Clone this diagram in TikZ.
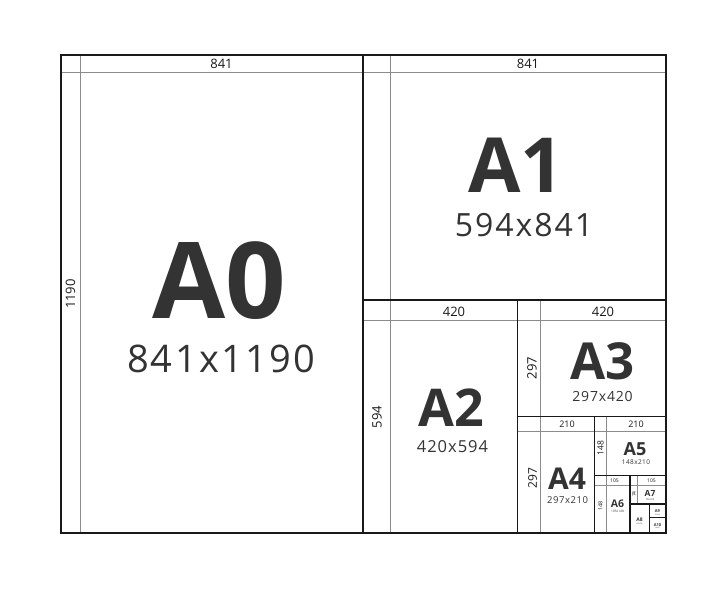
\documentclass[tikz,border=0pt]{standalone}
\usepackage{fontspec}
\setmainfont{Open Sans}
\newcommand{\fsz}[1]{\fontsize{#1}{#1}\selectfont}
\newcommand{\wsz}[1]{\fontsize{#1}{#1}\selectfont\addfontfeature{LetterSpace=6}}
\begin{document}
\begin{tikzpicture}[x=1pt,y=-1pt,
  sheet/.style={draw=black!90,line width=1.5pt},
  frame/.style={draw=black!90,line width=1.8pt},
  guide/.style={draw=black!45,line width=0.9pt},
  big/.style={text=black!80,font=\bfseries,inner sep=0pt,anchor=base,text depth=0pt},
  size/.style={text=black!80,inner sep=0pt,anchor=base,text depth=0pt},
  dim/.style={text=black!90,inner sep=0pt},
  vdim/.style={dim,rotate=90}
]
\useasboundingbox (0,0) rectangle (720,600);
% guide lines (dimension strips)
\draw[guide] (80.7,55) -- (80.7,533);
\draw[guide] (61,72.3) -- (666,72.3);
\draw[guide] (390.7,55) -- (390.7,533);
\draw[guide] (363,320.7) -- (666,320.7);
\draw[guide] (540,300) -- (540,533);
\draw[guide] (517.7,431.7) -- (666,431.7);
\draw[guide] (606,416.7) -- (606,533);
\draw[guide] (594.3,485.7) -- (666,485.7);
\draw[guide] (637.3,475.3) -- (637.3,504);
% sheet borders
\draw[sheet] (363,55) -- (363,533);
\draw[sheet] (363,300) -- (666,300);
\draw[sheet] (517.7,300) -- (517.7,533);
\draw[sheet] (517.7,416.7) -- (666,416.7);
\draw[sheet] (594.3,416.7) -- (594.3,533);
\draw[sheet] (594.3,475.3) -- (666,475.3);
\draw[sheet] (630,475.3) -- (630,533);
\draw[sheet] (630,504) -- (666,504);
\draw[sheet] (649.3,504) -- (649.3,533);
\draw[sheet] (649.3,517.3) -- (666,517.3);
\draw[frame] (61,55) rectangle (666,533);
% A0
\node[dim,font=\fsz{13}] (w0) at (221.5,63.5) {841};
\node[vdim,font=\fsz{13}] (h0) at (70.5,294) {1190};
\node[big,font=\bfseries\fsz{106}] (a0) at (219,318) {A0};
\node[size,font=\wsz{38}] (s0) at (221,372) {841x1190};
% A1
\node[dim,font=\fsz{13}] (w1) at (528,63.5) {841};
\node[big,font=\bfseries\fsz{76}] (a1) at (516,192) {A1};
\node[size,font=\wsz{32}] (s1) at (524,236) {594x841};
% A2
\node[dim,font=\fsz{13}] (w2) at (454,311.5) {420};
\node[vdim,font=\fsz{13}] (h2) at (377,417) {594};
\node[big,font=\bfseries\fsz{52}] (a2) at (451,426) {A2};
\node[size,font=\wsz{16.5}] (s2) at (452.5,452) {420x594};
% A3
\node[dim,font=\fsz{13}] (w3) at (603,311.5) {420};
\node[vdim,font=\fsz{13}] (h3) at (532,368) {297};
\node[big,font=\bfseries\fsz{51}] (a3) at (602.5,379) {A3};
\node[size,font=\wsz{14}] (s3) at (602.5,401.5) {297x420};
% A4
\node[dim,font=\fsz{9}] (w4) at (567,424.5) {210};
\node[vdim,font=\fsz{12}] (h4) at (532.5,478) {297};
\node[big,font=\bfseries\fsz{30}] (a4) at (567,489) {A4};
\node[size,font=\wsz{9.5}] (s4) at (567.5,503) {297x210};
% A5
\node[dim,font=\fsz{9}] (w5) at (636,424.5) {210};
\node[vdim,font=\fsz{8.5}] (h5) at (600.5,448) {148};
\node[big,font=\bfseries\fsz{18}] (a5) at (635,455) {A5};
\node[size,font=\wsz{6.5}] (s5) at (636,464) {148x210};
% A6
\node[dim,font=\fsz{5}] (w6) at (614.5,480.7) {105};
\node[vdim,font=\fsz{5.5}] (h6) at (600.5,506) {148};
\node[big,font=\bfseries\fsz{10.5}] (a6) at (617.5,507.3) {A6};
\node[size,font=\fsz{3.2}] (s6) at (617.5,512.5) {105x148};
% A7
\node[dim,font=\fsz{5}] (w7) at (651.5,481) {105};
\node[vdim,font=\fsz{5}] (h7) at (634,494) {74};
\node[big,font=\bfseries\fsz{8.5}] (a7) at (650,496.7) {A7};
\node[size,font=\fsz{2.5}] (s7) at (650,500.5) {74x105};
% A8
\node[big,font=\bfseries\fsz{5}] (a8) at (639.5,521) {A8};
\node[size,font=\fsz{2}] (s8) at (639.5,524.5) {52x74};
% A9
\node[big,font=\bfseries\fsz{4}] (a9) at (657.5,512.5) {A9};
\node[size,font=\fsz{1.8}] (s9) at (657.5,515) {37x52};
% A10
\node[big,font=\bfseries\fsz{4}] (a10) at (657.5,526) {A10};
\node[size,font=\fsz{1.8}] (s10) at (657.5,528.5) {26x37};
\end{tikzpicture}
\end{document}
